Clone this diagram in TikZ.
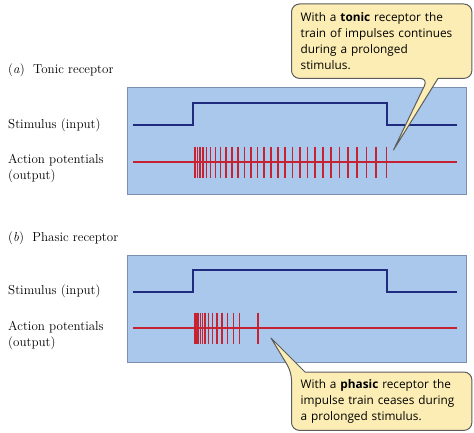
\documentclass[tikz,border=0pt]{standalone}
\usepackage{fontspec}
\newfontfamily\notefont{Open Sans}
\usepackage{tikz}
\usetikzlibrary{positioning}

\definecolor{panelblue}{HTML}{AAC8EC}
\definecolor{paneledge}{HTML}{7A90AE}
\definecolor{stimblue}{HTML}{1E2B7E}
\definecolor{apred}{HTML}{C62231}
\definecolor{notefill}{HTML}{FBEDB3}
\definecolor{noteedge}{HTML}{5C5C5C}

\pgfdeclarelayer{bubbles}
\pgfdeclarelayer{notes}
\pgfsetlayers{main,bubbles,notes}

\tikzset{
    sidetext/.style={anchor=west,inner sep=0pt,align=left,font=\fontsize{13}{16}\selectfont},
    panel/.style={fill=panelblue,draw=paneledge,line width=0.8pt},
    stimulus/.style={draw=stimblue,line width=2pt},
    apline/.style={draw=apred,line width=1.6pt},
    spike/.style={draw=apred,line width=1.6pt},
    notetext/.style={anchor=north west,inner xsep=9pt,inner ysep=0pt,text width=162pt,align=left,
        font=\notefont\fontsize{11.8}{16}\selectfont},
    bubble/.style={fill=notefill,draw=noteedge,line width=1pt,line join=round}
}

\begin{document}
\begin{tikzpicture}[x=1pt,y=-1pt]
    \useasboundingbox (0,0) rectangle (474,433);

    % (a) tonic
    \node   [sidetext]  (tonichead)     at (8,70)   {(\textit{a})\ \ Tonic receptor};
    \node   [sidetext]  (tonicstim)     at (8,125)  {Stimulus (input)};
    \node   [sidetext]  (tonicap)       at (8,168)  {Action potentials\\(output)};

    \path   [panel]     (127,87) rectangle (466,194);
    \draw   [stimulus]  (133,125) -- (193,125) -- (193,103) -- (387,103) -- (387,125) -- (457,125);
    \draw   [apline]    (133,162) -- (457,162);
    \foreach \x in {195,197.5,200,203,206.5,210.5,215.5,220.5,226,232,238,244.5,251,257.5,264,
                    271,278,285,292.5,300,307.5,315,323,331,339.5,348,357,366.5,376,386.5}
        \draw [spike] (\x,147) -- (\x,178);

    % (b) phasic
    \node   [sidetext]  (phasichead)    at (8,238)  {(\textit{b})\ \ Phasic receptor};
    \node   [sidetext]  (phasicstim)    at (8,291.5){Stimulus (input)};
    \node   [sidetext]  (phasicap)      at (8,335.5){Action potentials\\(output)};

    \path   [panel]     (127,255) rectangle (466,362.5);
    \draw   [stimulus]  (133,291.5) -- (193,291.5) -- (193,269.5) -- (387,269.5) -- (387,291.5) -- (457,291.5);
    \draw   [apline]    (133,327.7) -- (457,327.7);
    \foreach \x in {195,196.8,198.6,200.5,202.5,205,208.5,212.5,217,222,227.5,233.5,239.5,258}
        \draw [spike] (\x,312.5) -- (\x,344);

    % callouts
    \begin{pgfonlayer}{notes}
        \node   [notetext,minimum height=74pt]  (tonicnote)  at (291.5,4)
            {With a \textbf{tonic} receptor the\\train of impulses continues\\during a prolonged\\stimulus.};
        \node   [notetext,minimum height=58pt]  (phasicnote) at (291.5,372)
            {With a \textbf{phasic} receptor the\\impulse train ceases during\\a prolonged stimulus.};
    \end{pgfonlayer}
    \coordinate (tonictip) at (393.5,150);
    \coordinate (phasictip) at (271,338);
    \begin{pgfonlayer}{bubbles}
        \draw   [bubble]    ([xshift=146.5pt]tonicnote.south west) [rounded corners=8pt]
                -- (tonicnote.south east) -- (tonicnote.north east) -- (tonicnote.north west)
                -- (tonicnote.south west) -- ([xshift=136.5pt]tonicnote.south west)
                [sharp corners] -- (tonictip) -- cycle;
        \draw   [bubble]    ([xshift=13.5pt]phasicnote.north west) [rounded corners=8pt]
                -- (phasicnote.north east) -- (phasicnote.south east) -- (phasicnote.south west)
                -- (phasicnote.north west) [sharp corners] -- (phasictip) -- cycle;
    \end{pgfonlayer}
\end{tikzpicture}
\end{document}
